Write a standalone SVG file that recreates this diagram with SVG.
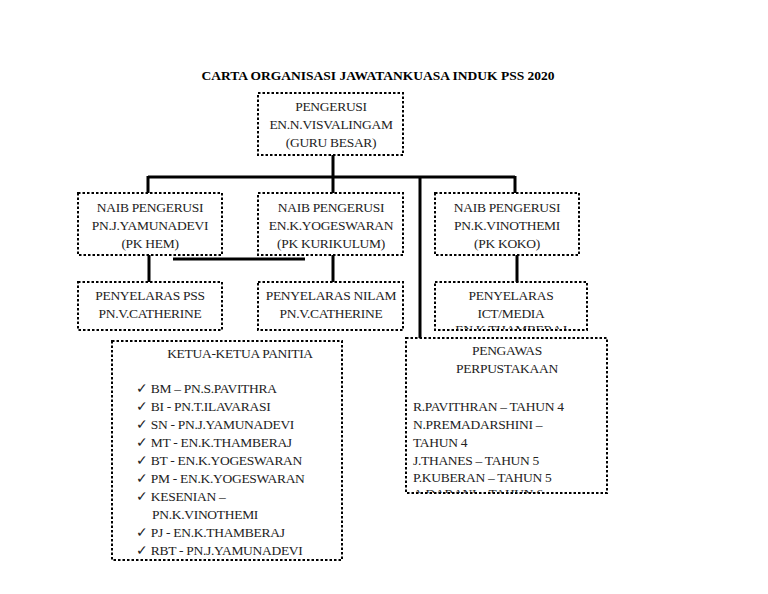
<svg xmlns="http://www.w3.org/2000/svg" width="768" height="594" viewBox="0 0 768 594">
<style>
.b{fill:#fff;stroke:#000;stroke-width:2;stroke-dasharray:2.5 2}
text{font-family:"Liberation Serif","Times New Roman",serif;font-size:13.5px;letter-spacing:-0.3px;fill:#222}
.c{text-anchor:middle}
.k{stroke:#000;stroke-width:3;fill:none}
</style>
<defs>
<clipPath id="c1"><rect x="435" y="282" width="152" height="47"/></clipPath>
<clipPath id="c2"><rect x="406" y="338" width="201" height="155"/></clipPath>
</defs>
<rect width="768" height="594" fill="#fff"/>
<text x="378" y="80" class="c" style="font-weight:bold;font-size:13.5px;letter-spacing:0;fill:#000">CARTA ORGANISASI JAWATANKUASA INDUK PSS 2020</text>
<g id="connectors">
<path class="k" d="M333 155V177M148 177H515M148 176V193M333 177V193M515 176V193M420 177V340M149 255V282M173 259H305M333 255V282M517 255V282"/>
</g>
<g id="pengerusi"><rect class="b" x="258" y="93" width="145" height="62"/>
<text class="c" x="331" y="111">PENGERUSI</text><text class="c" x="331" y="129">EN.N.VISVALINGAM</text><text class="c" x="331" y="147">(GURU BESAR)</text></g>
<g id="naib1"><rect class="b" x="78" y="193" width="144" height="62"/>
<text class="c" x="150" y="212">NAIB PENGERUSI</text><text class="c" x="150" y="230">PN.J.YAMUNADEVI</text><text class="c" x="150" y="248">(PK HEM)</text></g>
<g id="naib2"><rect class="b" x="258" y="193" width="145" height="62"/>
<text class="c" x="331" y="212">NAIB PENGERUSI</text><text class="c" x="331" y="230">EN.K.YOGESWARAN</text><text class="c" x="331" y="248">(PK KURIKULUM)</text></g>
<g id="naib3"><rect class="b" x="435" y="193" width="144" height="62"/>
<text class="c" x="507" y="212">NAIB PENGERUSI</text><text class="c" x="507" y="230">PN.K.VINOTHEMI</text><text class="c" x="507" y="248">(PK KOKO)</text></g>
<g id="pss"><rect class="b" x="78" y="282" width="144" height="48"/>
<text class="c" x="150" y="300">PENYELARAS PSS</text><text class="c" x="150" y="318">PN.V.CATHERINE</text></g>
<g id="nilam"><rect class="b" x="258" y="282" width="145" height="48"/>
<text class="c" x="331" y="300">PENYELARAS NILAM</text><text class="c" x="331" y="318">PN.V.CATHERINE</text></g>
<g id="ict"><rect class="b" x="435" y="282" width="152" height="48"/>
<g clip-path="url(#c1)"><text class="c" x="511" y="300">PENYELARAS</text><text class="c" x="511" y="318">ICT/MEDIA</text><text class="c" x="511" y="334">EN.K.THAMBERAJ</text></g></g>
<g id="ketua"><rect class="b" x="112" y="341" width="230" height="219"/>
<text class="c" x="240" y="358">KETUA-KETUA PANITIA</text>
<text x="136" y="393">✓ BM – PN.S.PAVITHRA</text>
<text x="136" y="411">✓ BI   - PN.T.ILAVARASI</text>
<text x="136" y="429">✓ SN  - PN.J.YAMUNADEVI</text>
<text x="136" y="447">✓ MT  - EN.K.THAMBERAJ</text>
<text x="136" y="465">✓ BT  - EN.K.YOGESWARAN</text>
<text x="136" y="483">✓ PM  - EN.K.YOGESWARAN</text>
<text x="136" y="501">✓ KESENIAN –</text>
<text x="152" y="519">PN.K.VINOTHEMI</text>
<text x="136" y="537">✓ PJ  - EN.K.THAMBERAJ</text>
<text x="136" y="555">✓ RBT  - PN.J.YAMUNADEVI</text></g>
<g id="pengawas"><rect class="b" x="406" y="338" width="201" height="155"/>
<g clip-path="url(#c2)"><text class="c" x="507" y="355">PENGAWAS</text><text class="c" x="507" y="373">PERPUSTAKAAN</text>
<text x="413" y="411">R.PAVITHRAN – TAHUN 4</text>
<text x="413" y="429">N.PREMADARSHINI –</text>
<text x="413" y="447">TAHUN 4</text>
<text x="413" y="465">J.THANES – TAHUN 5</text>
<text x="413" y="482">P.KUBERAN – TAHUN 5</text>
<text x="413" y="498">A.DARANI – TAHUN 6</text></g></g>
</svg>
